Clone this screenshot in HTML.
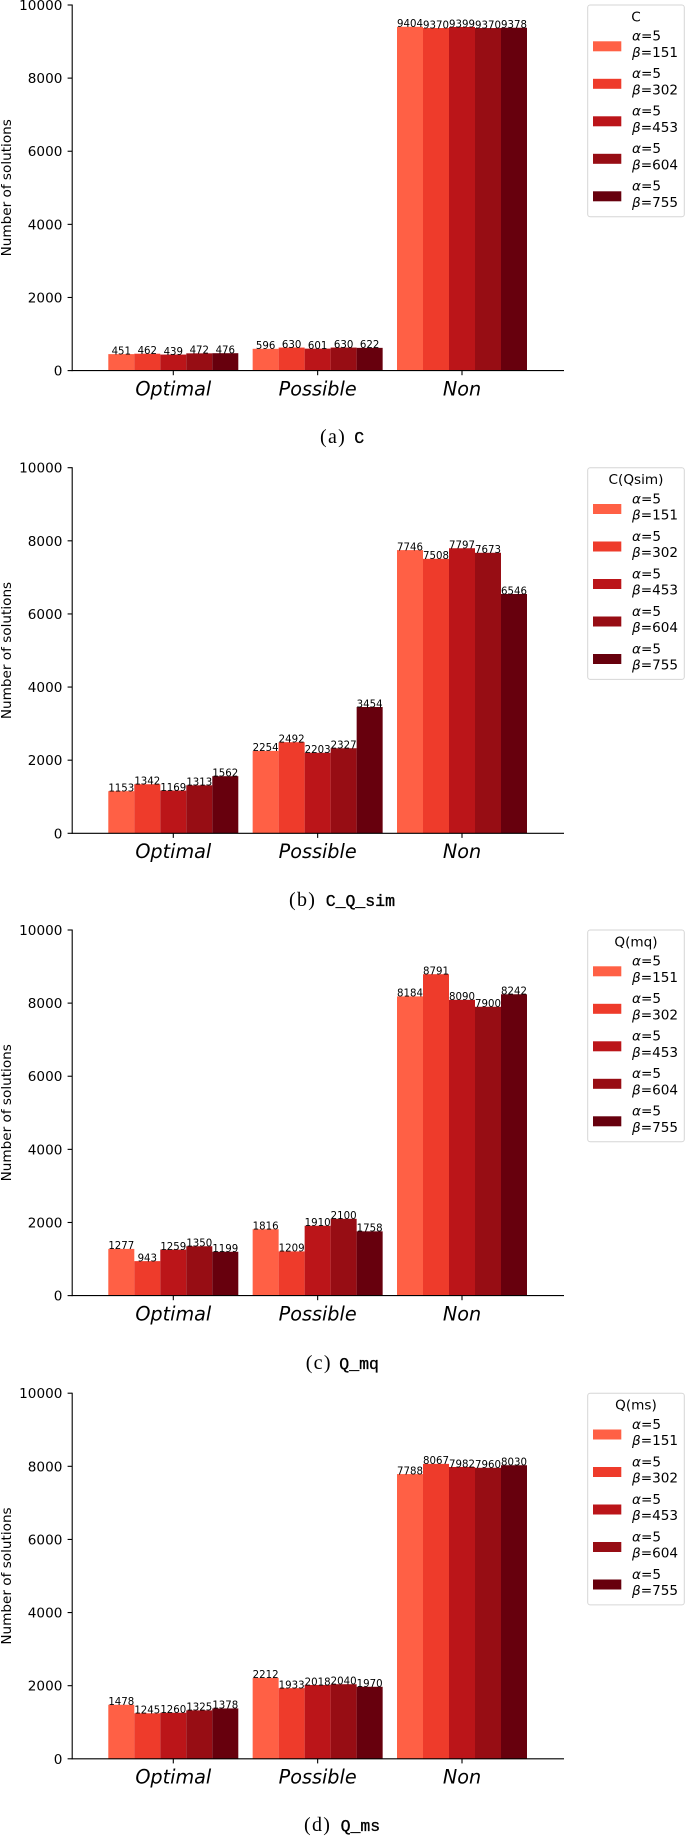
<!DOCTYPE html>
<html lang="en">
<head>
<meta charset="utf-8">
<title>Number of solutions by category</title>
<style>
  html, body { margin: 0; padding: 0; background: #fff; }
  body { width: 685px; height: 1836px; overflow: hidden; }
  svg { display: block; filter: blur(0.35px); }
  text { font-family: "DejaVu Sans", "Liberation Sans", sans-serif; fill: #000; }
</style>
</head>
<body>
<svg id="figure" xmlns="http://www.w3.org/2000/svg" width="685" height="1836" viewBox="0 0 685 1836"></svg>
<script>
// ---- chart data ----
const categories = ['Optimal', 'Possible', 'Non'];
const alphaValue = 5;
const betaValues = [151, 302, 453, 604, 755];
const yTicks = [0, 2000, 4000, 6000, 8000, 10000];
const yAxisLabel = 'Number of solutions';
const legendTitles = ['C', 'C(Qsim)', 'Q(mq)', 'Q(ms)'];
const captionPrefixes = ['(a)', '(b)', '(c)', '(d)'];
const captionNames = ['C', 'C_Q_sim', 'Q_mq', 'Q_ms'];

// one row per category, one column per beta
const panelCValues = [
  [451, 462, 439, 472, 476],
  [596, 630, 601, 630, 622],
  [9404, 9370, 9399, 9370, 9378]
];
const panelCQsimValues = [
  [1153, 1342, 1169, 1313, 1562],
  [2254, 2492, 2203, 2327, 3454],
  [7746, 7508, 7797, 7673, 6546]
];
const panelQmqValues = [
  [1277, 943, 1259, 1350, 1199],
  [1816, 1209, 1910, 2100, 1758],
  [8184, 8791, 8090, 7900, 8242]
];
const panelQmsValues = [
  [1478, 1245, 1260, 1325, 1378],
  [2212, 1933, 2018, 2040, 1970],
  [7788, 8067, 7982, 7960, 8030]
];
const panelValues = [panelCValues, panelCQsimValues, panelQmqValues, panelQmsValues];

const seriesColors = ['#ff6045', '#ee3b2b', '#bb1519', '#970d14', '#67000d'];

// ---- layout (not data) ----
const LAYOUT = {
  axisLeft: 72.2, axisRight: 564, plotHeight: 365.6, yMax: 10000,
  firstBarX: 108.3, groupStep: 144.35, barWidth: 26,
  legendX: 587.7, legendWidth: 96.6, legendHeight: 211.7, legendRowStep: 37.5,
  panelTop: [5, 467.7, 930, 1393.2],
  captionBaseline: [443, 906, 1369, 1831],
  captionStart: [320, 289, 305.7, 304],
  captionNameStart: [354.3, 325.7, 339.3, 340.6]
};

const NS = 'http://www.w3.org/2000/svg';
const figure = document.getElementById('figure');

function make(parent, tag, attrs, content) {
  const el = document.createElementNS(NS, tag);
  Object.keys(attrs).forEach(function (k) { el.setAttribute(k, attrs[k]); });
  if (content !== undefined) el.textContent = content;
  parent.appendChild(el);
  return el;
}

function xBar(groupIndex, seriesIndex) {
  return LAYOUT.firstBarX + groupIndex * LAYOUT.groupStep + seriesIndex * LAYOUT.barWidth;
}
function xCategory(groupIndex) {
  return xBar(groupIndex, 0) + 2.5 * LAYOUT.barWidth;
}
function yScale(value, top) {
  return top + LAYOUT.plotHeight * (1 - value / LAYOUT.yMax);
}

function drawBars(panel, values, top) {
  categories.forEach(function (category, g) {
    betaValues.forEach(function (beta, s) {
      const value = values[g][s];
      const yTop = yScale(value, top);
      const bar = make(panel, 'rect', {
        x: xBar(g, s), y: yTop, width: LAYOUT.barWidth,
        height: yScale(0, top) - yTop, fill: seriesColors[s]
      });
      
      
      const label = make(panel, 'text', {
        x: xBar(g, s) + LAYOUT.barWidth / 2, y: yTop + 0.3,
        'text-anchor': 'middle', 'font-size': '10.2px'
      }, String(value));
      
      
    });
  });
}

function drawAxes(panel, top) {
  const y0 = yScale(0, top);
  const ySpine = make(panel, 'line', {
    x1: LAYOUT.axisLeft, x2: LAYOUT.axisLeft, y1: top - 0.5, y2: y0 + 0.5,
    stroke: '#000', 'stroke-width': 1.1
  });
  
  
  const xSpine = make(panel, 'line', {
    x1: LAYOUT.axisLeft - 0.5, x2: LAYOUT.axisRight, y1: y0, y2: y0,
    stroke: '#000', 'stroke-width': 1.1
  });
  
  

  yTicks.forEach(function (tick) {
    const y = yScale(tick, top);
    const mark = make(panel, 'line', {
      x1: LAYOUT.axisLeft - 4.6, x2: LAYOUT.axisLeft, y1: y, y2: y,
      stroke: '#000', 'stroke-width': 1.1
    });
    
    
    const label = make(panel, 'text', {
      x: 62.4, y: y + 5, 'text-anchor': 'end', 'font-size': '13.6px'
    }, String(tick));
    
    
  });

  categories.forEach(function (category, g) {
    const x = xCategory(g);
    const mark = make(panel, 'line', {
      x1: x, x2: x, y1: y0, y2: y0 + 4.6, stroke: '#000', 'stroke-width': 1.1
    });
    
    
    const label = make(panel, 'text', {
      x: x, y: y0 + 24.8, 'text-anchor': 'middle', 'font-size': '19.2px', 'font-style': 'italic'
    }, category);
    
    
  });

  const yMid = top + LAYOUT.plotHeight / 2;
  const title = make(panel, 'text', {
    x: 0, y: 0, 'text-anchor': 'middle', 'font-size': '13.6px',
    transform: 'translate(10.8 ' + yMid + ') rotate(-90)'
  }, yAxisLabel);
  
  
}

function drawLegend(panel, titleText, top) {
  const legend = make(panel, 'g', {});
  
  
  const frame = make(legend, 'rect', {
    x: LAYOUT.legendX, y: top, width: LAYOUT.legendWidth, height: LAYOUT.legendHeight,
    rx: 2.5, ry: 2.5, fill: '#fff', stroke: '#d6d6d6', 'stroke-width': 1
  });
  
  
  const title = make(legend, 'text', {
    x: LAYOUT.legendX + LAYOUT.legendWidth / 2, y: top + 16.3,
    'text-anchor': 'middle', 'font-size': '13.6px'
  }, titleText);
  
  

  betaValues.forEach(function (beta, s) {
    const rowY = top + s * LAYOUT.legendRowStep;
    const swatch = make(legend, 'rect', {
      x: 593, y: rowY + 36.3, width: 28.3, height: 10, fill: seriesColors[s]
    });
    
    

    const alphaLine = make(legend, 'text', { x: 632, y: rowY + 35.6, 'font-size': '13.6px' });
    
    
    make(alphaLine, 'tspan', { 'font-style': 'italic' }, '\u03B1');
    make(alphaLine, 'tspan', {}, '=' + alphaValue);

    const betaLine = make(legend, 'text', { x: 632, y: rowY + 52, 'font-size': '13.6px' });
    
    
    make(betaLine, 'tspan', { 'font-style': 'italic' }, '\u03B2');
    make(betaLine, 'tspan', {}, '=' + beta);
  });
}

function drawCaption(index) {
  const caption = make(figure, 'text', {
    x: LAYOUT.captionStart[index], y: LAYOUT.captionBaseline[index]
  });
  
  
  const prefix = make(caption, 'tspan', {
    'font-size': '20px', 'letter-spacing': '1.3px',
    style: 'font-family:"Liberation Serif",serif'
  }, captionPrefixes[index] + ' ');
  
  
  const name = make(caption, 'tspan', {
    x: LAYOUT.captionNameStart[index],
    'font-size': '16.5px', stroke: '#000', 'stroke-width': 0.35,
    style: 'font-family:"Liberation Mono",monospace'
  }, captionNames[index]);
  
  
}

panelValues.forEach(function (values, i) {
  const top = LAYOUT.panelTop[i];
  const panel = make(figure, 'g', {});
  
  
  drawBars(panel, values, top);
  drawAxes(panel, top);
  drawLegend(panel, legendTitles[i], top);
  drawCaption(i);
});
</script>
</body>
</html>
